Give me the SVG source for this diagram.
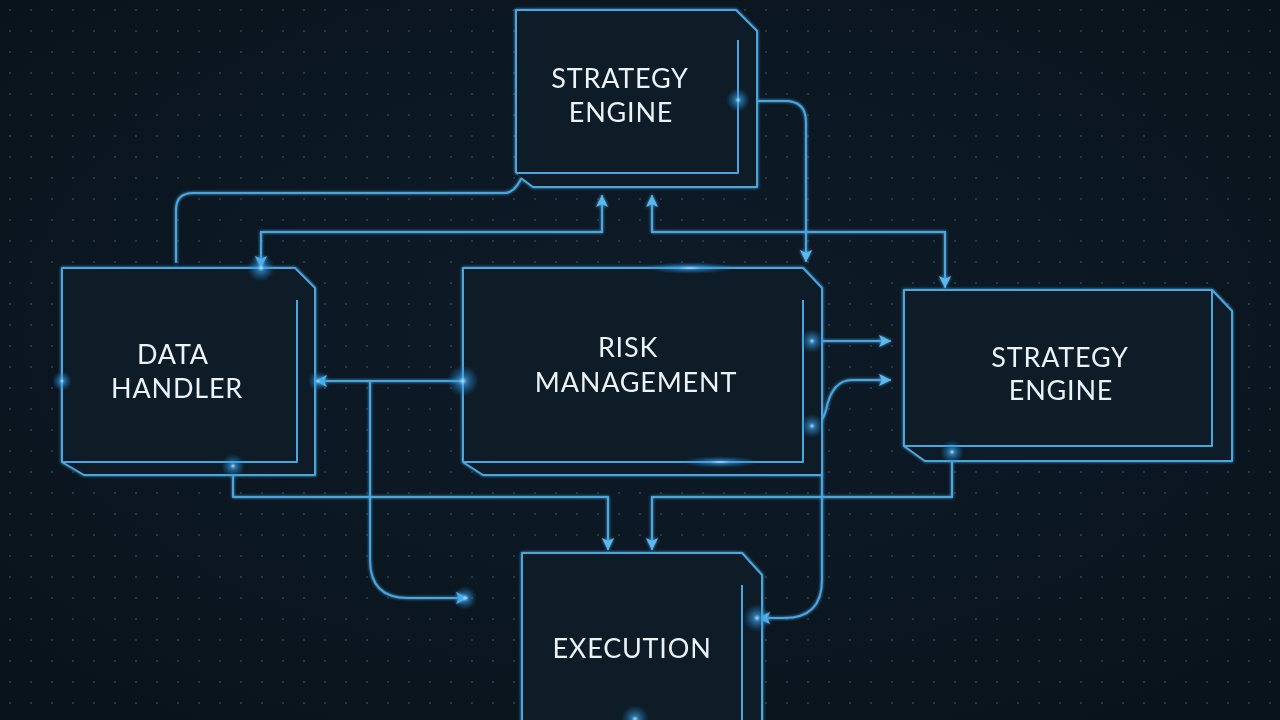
<svg xmlns="http://www.w3.org/2000/svg" width="1280" height="720" viewBox="0 0 1280 720">
<defs>
<pattern id="dots" x="0" y="0" width="21" height="21" patternUnits="userSpaceOnUse">
<circle cx="10" cy="10" r="1" fill="#26445a"/>
</pattern>
<radialGradient id="bg" cx="50%" cy="45%" r="70%">
<stop offset="0" stop-color="#0e1c29"/>
<stop offset="1" stop-color="#09131b"/>
</radialGradient>
<radialGradient id="glow">
<stop offset="0" stop-color="#bfe9ff" stop-opacity="0.95"/>
<stop offset="0.25" stop-color="#3fa9f0" stop-opacity="0.6"/>
<stop offset="1" stop-color="#1e78c8" stop-opacity="0"/>
</radialGradient>
<filter id="soft" x="-20%" y="-20%" width="140%" height="140%">
<feGaussianBlur stdDeviation="1.6" result="b"/>
<feMerge><feMergeNode in="b"/><feMergeNode in="SourceGraphic"/></feMerge>
</filter>
<marker id="arr" viewBox="0 0 14 14" refX="12" refY="7" markerWidth="14" markerHeight="14" markerUnits="userSpaceOnUse" orient="auto-start-reverse">
<path d="M1,1 L13,7 L1,13 L4,7 Z" fill="#5cb8f0"/>
</marker>
</defs>
<style>
.box{fill:#0c1a27;stroke:none}
.edge{fill:none;stroke:#4aa6de;stroke-width:2;stroke-linejoin:round}
.wire{fill:none;stroke:#4aa6de;stroke-width:2;stroke-linecap:round}
.lbl{font-family:Lato,"Open Sans","Liberation Sans",sans-serif;font-size:27px;fill:#eaf3f8;text-anchor:middle;letter-spacing:0.8px}
</style>
<rect width="1280" height="720" fill="url(#bg)"/>
<rect width="1280" height="720" fill="url(#dots)"/>

<g id="connectors" filter="url(#soft)">
<path class="wire" d="M176,262 L176,210 Q176,193 193,193 L505,193 Q514,193 521,179"/>
<path class="wire" d="M753,101 L785,101 Q806,101 806,122 L806,261" marker-end="url(#arr)"/>
<path class="wire" d="M261,267 L261,232 L602,232 L602,196" marker-start="url(#arr)" marker-end="url(#arr)"/>
<path class="wire" d="M945,287 L945,232 L652,232 L652,196" marker-start="url(#arr)" marker-end="url(#arr)"/>
<path class="wire" d="M316,381 L463,381" marker-start="url(#arr)"/>
<path class="wire" d="M370,381 L370,560 Q370,598 408,598 L467,598" marker-end="url(#arr)"/>
<path class="wire" d="M808,341 L890,341" marker-start="url(#arr)" marker-end="url(#arr)"/>
<path class="wire" d="M808,426 Q822,426 826,410 Q832,380 852,380 L890,380" marker-start="url(#arr)" marker-end="url(#arr)"/>
<path class="wire" d="M822,475 L822,580 Q822,618 784,618 L759,618" marker-end="url(#arr)"/>
<path class="wire" d="M233,465 L233,497 L608,497 L608,549" marker-end="url(#arr)"/>
<path class="wire" d="M952,449 L952,497 L652,497 L652,549" marker-end="url(#arr)"/>
</g>

<g id="strategy-engine-top" filter="url(#soft)">
<path class="box" d="M516,10 L736,10 L757,31 L757,187 L533,187 L516,173 Z"/>
<path class="edge" d="M516,173 L516,10 L736,10 L757,31 L757,187 L533,187 L521,178"/>
<path class="edge" d="M516,173 L738,173 L738,40"/>
<text class="lbl" x="620" y="88">STRATEGY</text>
<text class="lbl" x="621" y="122">ENGINE</text>
</g>

<g id="data-handler" filter="url(#soft)">
<path class="box" d="M62,268 L295,268 L315,288 L315,475 L84,475 L62,462 Z"/>
<path class="edge" d="M62,462 L62,268 L295,268 L315,288 L315,475 L84,475 L62,462 L297,462 L297,300"/>
<text class="lbl" x="173" y="364">DATA</text>
<text class="lbl" x="177" y="398">HANDLER</text>
</g>

<g id="risk-management" filter="url(#soft)">
<path class="box" d="M463,268 L803,268 L822,288 L822,475 L483,475 L463,462 Z"/>
<path class="edge" d="M463,462 L463,268 L803,268 L822,288 L822,475 L483,475 L463,462 L803,462 L803,300"/>
<text class="lbl" x="628" y="357">RISK</text>
<text class="lbl" x="636" y="392">MANAGEMENT</text>
</g>

<g id="strategy-engine-right" filter="url(#soft)">
<path class="box" d="M904,290 L1212,290 L1232,311 L1232,461 L925,461 L904,446 Z"/>
<path class="edge" d="M904,446 L904,290 L1212,290 L1232,311 L1232,461 L925,461 L904,446 L1212,446 L1212,290"/>
<text class="lbl" x="1060" y="367">STRATEGY</text>
<text class="lbl" x="1061" y="400">ENGINE</text>
</g>

<g id="execution" filter="url(#soft)">
<path class="box" d="M522,553 L742,553 L762,575 L762,720 L522,720 Z"/>
<path class="edge" d="M522,722 L522,553 L742,553 L762,575 L762,722"/>
<path class="edge" d="M742,585 L742,722"/>
<text class="lbl" x="632" y="658">EXECUTION</text>
</g>

<g id="glows">
<circle cx="261" cy="268" r="14" fill="url(#glow)"/>
<circle cx="233" cy="466" r="12" fill="url(#glow)"/>
<circle cx="463" cy="381" r="16" fill="url(#glow)"/>
<circle cx="62" cy="381" r="10" fill="url(#glow)"/>
<circle cx="318" cy="381" r="10" fill="url(#glow)"/>
<circle cx="738" cy="100" r="12" fill="url(#glow)"/>
<circle cx="952" cy="452" r="12" fill="url(#glow)"/>
<circle cx="757" cy="618" r="14" fill="url(#glow)"/>
<circle cx="465" cy="598" r="12" fill="url(#glow)"/>
<circle cx="812" cy="341" r="12" fill="url(#glow)"/>
<circle cx="812" cy="426" r="12" fill="url(#glow)"/>
<circle cx="635" cy="719" r="14" fill="url(#glow)"/>
<ellipse cx="690" cy="268" rx="45" ry="6" fill="url(#glow)"/>
<ellipse cx="720" cy="462" rx="40" ry="6" fill="url(#glow)"/>
</g>
</svg>
